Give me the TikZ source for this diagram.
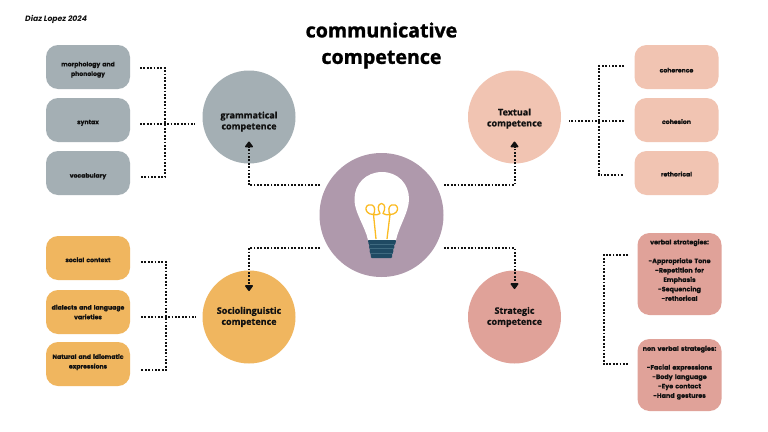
\documentclass[tikz,border=0pt]{standalone}
\usepackage{fontspec}
\setmainfont[BoldFeatures={FakeBold=0.6}]{Poppins}
\newfontfamily\headfont[BoldFeatures={FakeBold=0.8}]{Open Sans}
\newfontfamily\titlefont[BoldFeatures={FakeBold=1.4}]{Open Sans}
\usetikzlibrary{arrows.meta}
\definecolor{greyc}{HTML}{A4AFB4}
\definecolor{orangec}{HTML}{F0B65F}
\definecolor{peachc}{HTML}{F1C4B2}
\definecolor{rosec}{HTML}{E0A299}
\definecolor{plumc}{HTML}{AF99AC}
\definecolor{bulbb}{HTML}{1F4A63}
\definecolor{bulbl}{HTML}{3F6A80}
\definecolor{bulby}{HTML}{FBBB22}
\definecolor{inkc}{HTML}{111111}
\newcommand{\dropby}[1]{\rule{0pt}{#1}}
\newcommand{\liftby}[1]{\rule[-#1]{0pt}{#1}}
\tikzset{
  leaf/.style={rounded corners=12pt,minimum width=84pt,minimum height=44pt,inner sep=1pt,align=center,text=inkc,
    font=\fontsize{6.15}{9.6}\selectfont\bfseries,text width=82pt},
  tallleaf/.style={leaf,font=\fontsize{6.4}{9.4}\selectfont\bfseries},
  hub/.style={circle,minimum size=93pt,inner sep=0pt,align=center,text=inkc,text width=72pt,
    font=\headfont\fontsize{9}{11}\selectfont\bfseries},
  dots/.style={line width=2pt,dash pattern=on 1.8pt off 1.6pt,draw=inkc},
  dotarrow/.style={dots,-{Triangle[width=9pt,length=6.5pt,round,sep=0pt]}},
  fil/.style={draw=bulby,line width=1.3pt,fill=none}
}
\begin{document}
\begin{tikzpicture}[x=1pt,y=-1pt]
\useasboundingbox (0,0) rectangle (768,431);
\fill[white] (0,0) rectangle (768,431);
\node[anchor=west,font=\fontsize{7.7}{9}\selectfont\bfseries\itshape,text=inkc,inner sep=0pt] (author) at (25,19) {Diaz Lopez 2024};
\node[align=center,font=\titlefont\fontsize{19.6}{26.5}\selectfont\bfseries,text=black,inner sep=0pt] (title) at (381.5,45.5) {communicative\\competence};
% boxes
\node[leaf,fill=greyc] (g1) at (88,67) {\dropby{10pt}morphology and\\phonology};
\node[leaf,fill=greyc] (g2) at (88,120) {\dropby{10pt}syntax};
\node[leaf,fill=greyc] (g3) at (88,173) {\dropby{11pt}vocabulary};
\node[leaf,fill=orangec] (s1) at (88,258) {\dropby{8.4pt}social context};
\node[leaf,fill=orangec] (s2) at (88,312) {dialects and language\\varieties};
\node[leaf,fill=orangec] (s3) at (88,364) {Natural and idiomatic\\expressions\liftby{5.5pt}};
\node[leaf,fill=peachc] (t1) at (676.5,67) {\dropby{11pt}coherence};
\node[leaf,fill=peachc] (t2) at (676.5,120) {\dropby{8pt}cohesion};
\node[leaf,fill=peachc] (t3) at (676.5,173) {\dropby{7pt}rethorical};
\node[tallleaf,fill=rosec,minimum height=82pt] (r1) at (679.5,274) {verbal strategies:\\[9.4pt]-Appropriate Tone\\-Repetition for\\Emphasis\\-Sequencing\\-rethorical\liftby{8pt}};
\node[tallleaf,fill=rosec,minimum height=72pt] (r2) at (679.5,375) {non verbal strategies:\\[9.4pt]-Facial expressions\\-Body language\\-Eye contact\\-Hand gestures\liftby{6.5pt}};
% hubs
\node[hub,fill=greyc] (hg) at (249,117) {\dropby{16pt}grammatical\\competence};
\node[hub,fill=peachc] (ht) at (514.5,117) {\dropby{10pt}Textual\\competence};
\node[hub,fill=orangec] (hs) at (249,317) {Sociolinguistic\\competence};
\node[hub,fill=rosec] (hr) at (514.5,317) {Strategic\\competence};
\node[circle,fill=plumc,minimum size=124pt,inner sep=0pt] (c) at (381.5,215) {};
% bulb
\fill[white] (368,240) .. controls (365,226) and (354,212) .. (354.5,199)
  .. controls (354.5,184) and (366,172) .. (382,172)
  .. controls (398,172) and (409,184) .. (409,199)
  .. controls (409,212) and (399,226) .. (396,240) -- cycle;
% filament
\draw[fil,line join=round] (376,239) -- (373.5,214.5)
  .. controls (368,214.5) and (365.5,211) .. (366,208)
  .. controls (366.5,205) and (370,204) .. (372,205)
  .. controls (375,206) and (375.5,211) .. (373.5,214.5)
  .. controls (376,215.5) and (378,214.5) .. (380,213.5)
  .. controls (377.5,209) and (377.5,204) .. (381.5,203.5)
  .. controls (385.5,204) and (385.5,209) .. (383,213.5)
  .. controls (385,214.5) and (387.5,215.5) .. (390,214.5)
  .. controls (388,211) and (388.5,206) .. (391.5,205)
  .. controls (394,204) and (397,205) .. (397.5,208)
  .. controls (398,211) and (395.5,214.5) .. (390,214.5)
  -- (387,239);
% base
\fill[bulbb,rounded corners=0.8pt] (368,240) -- (396,240) -- (395.5,244) -- (394,244.8) -- (394.5,248) -- (393,249) -- (393.5,252) -- (392.3,253) -- (392,258) -- (371,258) -- (370.5,253) -- (369.5,252) -- (370,249) -- (369,248) -- (369.5,244.8) -- (368.5,244) -- cycle;
\draw[bulbl,line width=0.5pt] (369.5,244.6) -- (394,244.6) (370,248.7) -- (393.5,248.7) (370.5,252.8) -- (392.5,252.8);
% connector joints
\coordinate (gb) at (165,123.5);
\coordinate (gt) at (165,68);
\coordinate (gd) at (165,177);
\coordinate (sb) at (166,317);
\coordinate (st) at (166,261.5);
\coordinate (sd) at (166,370);
\coordinate (tb) at (598.8,120.5);
\coordinate (tt) at (598.8,66);
\coordinate (td) at (598.8,175);
\coordinate (rt) at (603.5,255);
\coordinate (rd) at (603.5,364);
\coordinate (hgend) at (195,123.5);
\coordinate (hsend) at (196,317);
\coordinate (htend) at (569,120.5);
\coordinate (g1a) at (140,68);\coordinate (g2a) at (140,123.5);\coordinate (g3a) at (140,177);
\coordinate (s1a) at (141,261.5);\coordinate (s2a) at (141,317);\coordinate (s3a) at (141,370);
\coordinate (t1a) at (624,66);\coordinate (t2a) at (624,120.5);\coordinate (t3a) at (624,175);
\coordinate (r1a) at (628,255);\coordinate (r2a) at (629,364);
\draw[dots] (g1a) -- (gt) -- (gd) -- (g3a);
\draw[dots] (g2a) -- (gb) -- (hgend);
\draw[dots] (s1a) -- (st) -- (sd) -- (s3a);
\draw[dots] (s2a) -- (sb) -- (hsend);
\draw[dots] (t1a) -- (tt) -- (td) -- (t3a);
\draw[dots] (t2a) -- (tb) -- (htend);
\draw[dots] (r1a) -- (rt) -- (rd) -- (r2a);
% hub arrows
\coordinate (cgl) at (320,185.3);\coordinate (cgc) at (249,185.3);\coordinate (gtip) at (249,141.5);
\coordinate (csl) at (320,247.7);\coordinate (csc) at (249,247.7);\coordinate (stip) at (249,291);
\coordinate (ctr) at (444,185.3);\coordinate (ctc) at (514.5,185.3);\coordinate (ttip) at (514.5,141.5);
\coordinate (crr) at (444,247.7);\coordinate (crc) at (514.5,247.7);\coordinate (rtip) at (514.5,289);
\draw[dotarrow] (cgl) -- (cgc) -- (gtip);
\draw[dotarrow] (csl) -- (csc) -- (stip);
\draw[dotarrow] (ctr) -- (ctc) -- (ttip);
\draw[dotarrow] (crr) -- (crc) -- (rtip);
\end{tikzpicture}
\end{document}
